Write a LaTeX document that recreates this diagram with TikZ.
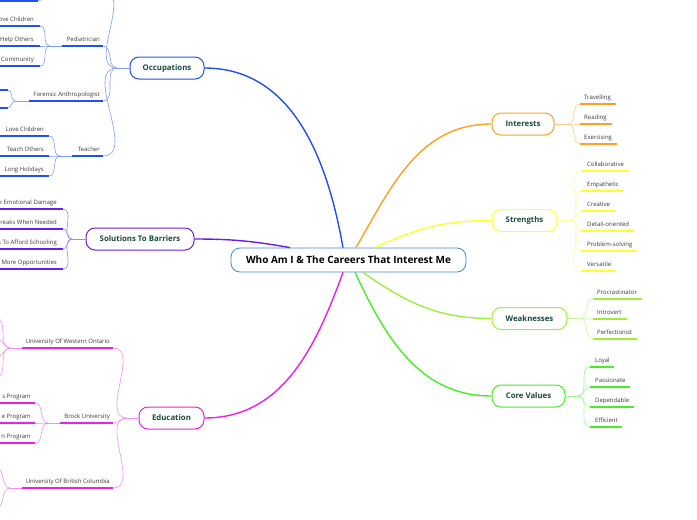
\documentclass[tikz,border=0pt]{standalone}
\usepackage{fontspec}
\setmainfont{Open Sans}

\definecolor{rootblue}{HTML}{3C8CD2}
\definecolor{topictext}{HTML}{1B4B3D}
\definecolor{leaftext}{HTML}{3A3A3A}
\definecolor{occblue}{HTML}{2150F0}
\definecolor{occlight}{HTML}{7E9CFF}
\definecolor{solpurple}{HTML}{6A1FE6}
\definecolor{sollight}{HTML}{A882FF}
\definecolor{edumag}{HTML}{E820E8}
\definecolor{edulight}{HTML}{F290F2}
\definecolor{intorange}{HTML}{FFA020}
\definecolor{intlight}{HTML}{FFCC88}
\definecolor{stryellow}{HTML}{FFFF30}
\definecolor{strlight}{HTML}{FFFF99}
\definecolor{weakgreen}{HTML}{9CF03C}
\definecolor{weaklight}{HTML}{C8F799}
\definecolor{coregreen}{HTML}{45EE25}
\definecolor{corelight}{HTML}{A0F596}

\begin{document}
\begin{tikzpicture}[x=1pt,y=-1pt,
  root/.style={draw=rootblue, line width=0.8pt, rounded corners=9pt, fill=white, inner sep=0pt,
    minimum height=24pt, font=\fontsize{10}{12}\selectfont\bfseries},
  topic/.style={draw=#1, line width=1pt, rounded corners=9pt, fill=white, text=topictext, inner sep=0pt,
    minimum height=22pt, font=\fontsize{7.8}{9}\selectfont\bfseries},
  leaf/.style={text=leaftext, font=\fontsize{6}{7}\selectfont, inner sep=0pt},
  bar/.style={draw=#1, line width=1.7pt},
  twig/.style={draw=#1, line width=0.6pt},
  limb/.style={draw=#1, line width=1.4pt}]
\useasboundingbox (0,0) rectangle (697,520);

% central topic and main topics
\node[root, minimum width=235pt] (who) at (348.5,260) {Who Am I \& The Careers That Interest Me};
\node[topic=occblue, minimum width=74pt] (occ) at (167,68) {Occupations};
\node[topic=solpurple, minimum width=108pt] (sol) at (140,239) {Solutions To Barriers};
\node[topic=edumag, minimum width=65pt] (edu) at (171.5,418) {Education};
\node[topic=intorange, minimum width=62pt] (int) at (523,124) {Interests};
\node[topic=stryellow, minimum width=65pt] (str) at (524.5,220.5) {Strengths};
\node[topic=weakgreen, minimum width=75pt] (weak) at (529.5,318.5) {Weaknesses};
\node[topic=coregreen, minimum width=73pt] (core) at (528.5,396) {Core Values};

\draw[limb=occblue] ([xshift=-5.5pt]who.north) to[out=100,in=0] (occ.east);
\draw[limb=intorange] ([xshift=7.5pt]who.north) to[out=60,in=180] (int.west);
\draw[limb=stryellow] ([xshift=26.5pt]who.north) to[out=25,in=180] (str.west);
\draw[limb=solpurple] ([xshift=-58.5pt]who.north) to[out=170,in=0] (sol.east);
\draw[limb=weakgreen] ([xshift=14.5pt]who.south) to[out=-35,in=180] (weak.west);
\draw[limb=coregreen] ([xshift=6.5pt]who.south) to[out=-65,in=180] (core.west);
\draw[limb=edumag] ([xshift=-5.5pt]who.south) to[out=-110,in=0] (edu.east);

% Occupations
\coordinate (occf) at (117,68);
\draw[twig=occlight] (occ.west) -- (occf);
\coordinate (occ0) at (103,-9);
\draw[twig=occlight] (occf) to[out=180,in=0] (occ0);
\draw[bar=occblue] (0,1) -- (38,1);
\draw[twig=occlight] (38,1) to[out=0,in=-90] (44,-8);

\coordinate (pedi) at (103,46);
\draw[bar=occblue] (62,46) -- (pedi);
\node[leaf, anchor=base east] (pedit) at (100,41) {Pediatrician};
\draw[twig=occlight] (occf) to[out=180,in=0] (pedi);
\coordinate (pedif) at (50,46);
\draw[twig=occlight] (62,46) -- (pedif);
\foreach \yy/\lbl in {26/ove Children, 46/Help Others, 66/Community} {
  \coordinate (pedi\yy) at (40,\yy);
  \draw[bar=occblue] (0,\yy) -- (pedi\yy);
  \node[leaf, anchor=base east] (pedit\yy) at (34,\yy-5) {\lbl};
  \draw[twig=occlight] (pedif) to[out=180,in=0] (pedi\yy);
}

\coordinate (fore) at (103,101);
\draw[bar=occblue] (29,101) -- (fore);
\node[leaf, anchor=base east] (foret) at (100,96) {Forensic Anthropologist};
\draw[twig=occlight] (occf) to[out=180,in=0] (fore);
\coordinate (foref) at (15,101);
\draw[twig=occlight] (29,101) -- (foref);
\foreach \yy in {90,108} {
  \coordinate (fore\yy) at (8,\yy);
  \draw[bar=occblue] (-10,\yy) -- (fore\yy);
  \draw[twig=occlight] (foref) to[out=180,in=0] (fore\yy);
}

\coordinate (teac) at (103,156);
\draw[bar=occblue] (72,156) -- (teac);
\node[leaf, anchor=base east] (teact) at (100,151) {Teacher};
\draw[twig=occlight] (occf) to[out=180,in=0] (teac);
\coordinate (teacf) at (60,156);
\draw[twig=occlight] (72,156) -- (teacf);
\foreach \yy/\lbl in {136/Love Children, 156/Teach Others, 176/Long Holidays} {
  \coordinate (teac\yy) at (49,\yy);
  \draw[bar=occblue] (0,\yy) -- (teac\yy);
  \node[leaf, anchor=base east] (teact\yy) at (44,\yy-5) {\lbl};
  \draw[twig=occlight] (teacf) to[out=180,in=0] (teac\yy);
}

% Solutions To Barriers
\coordinate (solf) at (72,239);
\draw[twig=sollight] (sol.west) -- (solf);
\foreach \yy/\lbl in {209/e Emotional Damage, 229/reaks When Needed, 249/s To Afford Schooling, 269/l More Opportunities} {
  \coordinate (sol\yy) at (63,\yy);
  \draw[bar=solpurple] (0,\yy) -- (sol\yy);
  \node[leaf, anchor=base east] (solt\yy) at (57,\yy-5) {\lbl};
  \draw[twig=sollight] (solf) to[out=180,in=0] (sol\yy);
}

% Education
\coordinate (eduf) at (127,418);
\draw[twig=edulight] (edu.west) -- (eduf);

\coordinate (uwo) at (113,348);
\draw[bar=edumag] (22,348) -- (uwo);
\node[leaf, anchor=base east] (uwot) at (110,343) {University Of Western Ontario};
\draw[twig=edulight] (eduf) to[out=180,in=0] (uwo);
\coordinate (uwof) at (10,348);
\draw[twig=edulight] (22,348) -- (uwof);
\foreach \yy in {318,338,358,378} {
  \coordinate (uwo\yy) at (-4,\yy);
  \draw[twig=edulight] (uwof) to[out=180,in=0] (uwo\yy);
}

\coordinate (broc) at (113,423);
\draw[bar=edumag] (60,423) -- (broc);
\node[leaf, anchor=base east] (broct) at (110,418) {Brock University};
\draw[twig=edulight] (eduf) to[out=180,in=0] (broc);
\coordinate (brocf) at (48,423);
\draw[twig=edulight] (60,423) -- (brocf);
\foreach \yy/\lbl in {403/s Program, 423/e Program, 443/n Program} {
  \coordinate (broc\yy) at (35,\yy);
  \draw[bar=edumag] (0,\yy) -- (broc\yy);
  \node[leaf, anchor=base east] (broct\yy) at (31,\yy-5) {\lbl};
  \draw[twig=edulight] (brocf) to[out=180,in=0] (broc\yy);
}

\coordinate (ubc) at (113,488);
\draw[bar=edumag] (22,488) -- (ubc);
\node[leaf, anchor=base east] (ubct) at (110,483) {University Of British Columbia};
\draw[twig=edulight] (eduf) to[out=180,in=0] (ubc);
\coordinate (ubcf) at (10,488);
\draw[twig=edulight] (22,488) -- (ubcf);
\foreach \yy in {468,508} {
  \coordinate (ubc\yy) at (-4,\yy);
  \draw[twig=edulight] (ubcf) to[out=180,in=0] (ubc\yy);
}

% Interests
\coordinate (intf) at (568,124);
\draw[twig=intlight] (int.east) -- (intf);
\foreach \yy/\xe/\lbl in {104/616/Travelling, 124/612/Reading, 144/617/Exercising} {
  \coordinate (int\yy) at (580,\yy);
  \draw[bar=intorange] (int\yy) -- (\xe,\yy);
  \node[leaf, anchor=base west] (intt\yy) at (584,\yy-5) {\lbl};
  \draw[twig=intlight] (intf) to[out=0,in=180] (int\yy);
}

% Strengths
\coordinate (strf) at (570,220.5);
\draw[twig=strlight] (str.east) -- (strf);
\foreach \yy/\xe/\lbl in {171/629/Collaborative, 191/623/Empathetic, 211/615/Creative,
    231/634/Detail-oriented, 251/637/Problem-solving, 271/615/Versatile} {
  \coordinate (str\yy) at (581,\yy);
  \draw[bar=stryellow] (str\yy) -- (\xe,\yy);
  \node[leaf, anchor=base west] (strt\yy) at (587,\yy-5) {\lbl};
  \draw[twig=strlight] (strf) to[out=0,in=180] (str\yy);
}

% Weaknesses
\coordinate (weakf) at (580,318.5);
\draw[twig=weaklight] (weak.east) -- (weakf);
\foreach \yy/\xe/\lbl in {299/642/Procrastinator, 319/627/Introvert, 339/637/Perfectionist} {
  \coordinate (weak\yy) at (593,\yy);
  \draw[bar=weakgreen] (weak\yy) -- (\xe,\yy);
  \node[leaf, anchor=base west] (weakt\yy) at (597,\yy-5) {\lbl};
  \draw[twig=weaklight] (weakf) to[out=0,in=180] (weak\yy);
}

% Core Values
\coordinate (coref) at (578,396);
\draw[twig=corelight] (core.east) -- (coref);
\foreach \yy/\xe/\lbl in {367/614/Loyal, 387/630/Passionate, 407/634/Dependable, 427/622/Efficient} {
  \coordinate (core\yy) at (590,\yy);
  \draw[bar=coregreen] (core\yy) -- (\xe,\yy);
  \node[leaf, anchor=base west] (coret\yy) at (595,\yy-5) {\lbl};
  \draw[twig=corelight] (coref) to[out=0,in=180] (core\yy);
}
\end{tikzpicture}
\end{document}
